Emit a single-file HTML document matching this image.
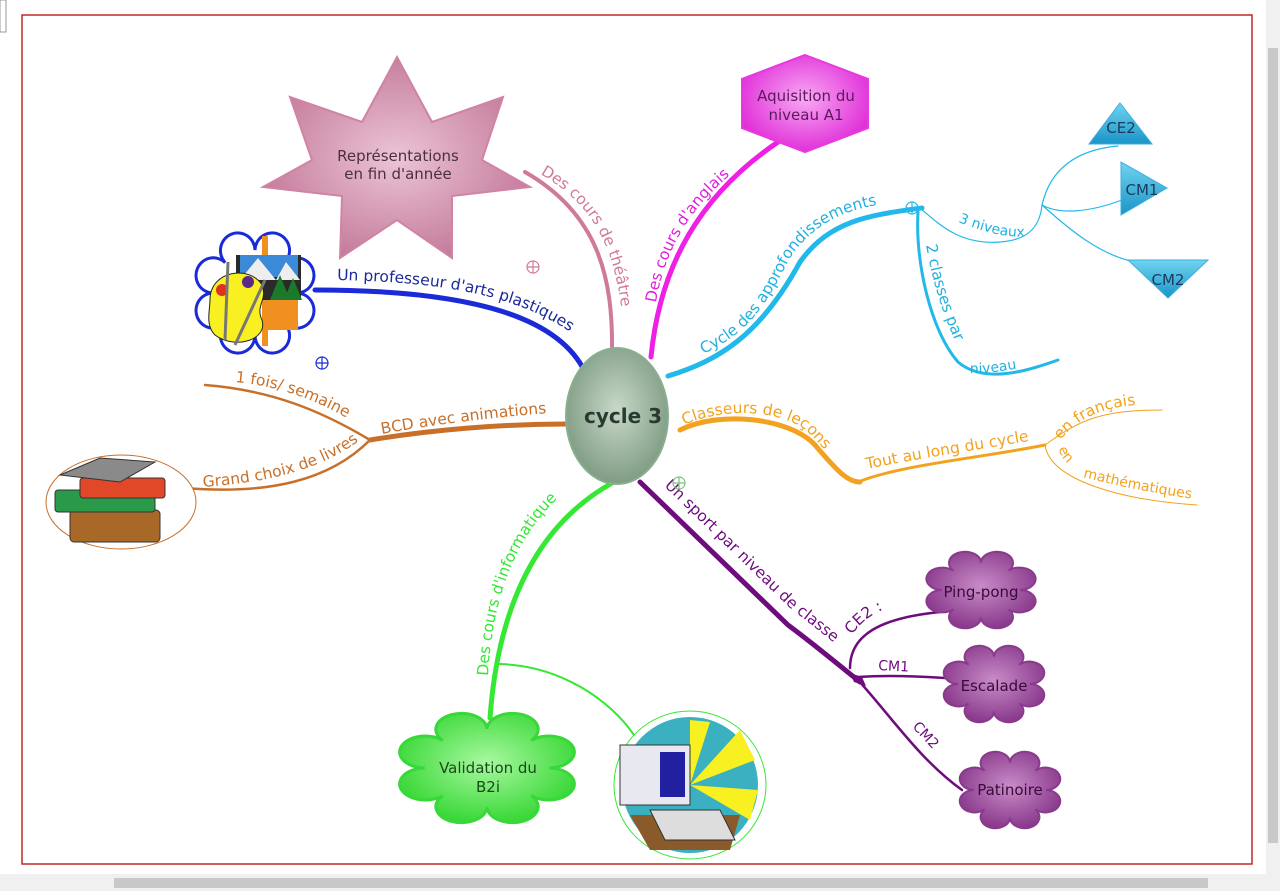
<!DOCTYPE html>
<html><head><meta charset="utf-8"><style>
html,body{margin:0;padding:0;background:#fff;width:1280px;height:891px;overflow:hidden}
svg{display:block;font-family:"DejaVu Sans","Liberation Sans",sans-serif}
</style></head><body>
<svg width="1280" height="891" viewBox="0 0 1280 891" xmlns="http://www.w3.org/2000/svg">
<defs>
<radialGradient id="gC" cx="50%" cy="45%" r="55%"><stop offset="0" stop-color="#c8d8c8"/><stop offset="1" stop-color="#7f9c84"/></radialGradient>
<radialGradient id="gS" cx="50%" cy="50%" r="55%"><stop offset="0" stop-color="#ecc4d6"/><stop offset="1" stop-color="#c27898"/></radialGradient>
<radialGradient id="gH" cx="50%" cy="45%" r="55%"><stop offset="0" stop-color="#f8a8f4"/><stop offset="1" stop-color="#e030d8"/></radialGradient>
<linearGradient id="gT" x1="0" y1="0" x2="0" y2="1"><stop offset="0" stop-color="#70d4f0"/><stop offset="1" stop-color="#1a94c8"/></linearGradient>
<radialGradient id="gP" cx="50%" cy="45%" r="55%"><stop offset="0" stop-color="#c88cc8"/><stop offset="1" stop-color="#8a3a8c"/></radialGradient>
<radialGradient id="gG" cx="50%" cy="45%" r="55%"><stop offset="0" stop-color="#a8f8a0"/><stop offset="1" stop-color="#3ad838"/></radialGradient>
<path id="cl" vector-effect="non-scaling-stroke" d="M0.78,0 A0.32,0.32 0 1 1 0.552,0.552 A0.32,0.32 0 1 1 0,0.78 A0.32,0.32 0 1 1 -0.552,0.552 A0.32,0.32 0 1 1 -0.78,0 A0.32,0.32 0 1 1 -0.552,-0.552 A0.32,0.32 0 1 1 0,-0.78 A0.32,0.32 0 1 1 0.552,-0.552 A0.32,0.32 0 1 1 0.78,0Z"/>
<path id="pTh" d="M540,174 C595,205 618,250 624,335"/>
<path id="pArt" d="M337,280 C450,282 530,297 588,345"/>
<path id="pEn" d="M656,303 C666,240 700,195 752,158"/>
<path id="pCy" d="M703,354 C750,332 765,306 790,258 C820,214 860,206 905,201"/>
<path id="p3n" d="M958,222 C985,232 1010,240 1035,235"/>
<path id="p2c" d="M926,245 C932,280 942,312 958,348"/>
<path id="pNi" d="M970,373 C985,374 1005,371 1030,366"/>
<path id="pBCD" d="M382,434 C430,425 500,416 565,412"/>
<path id="p1f" d="M235,382 C290,387 330,407 362,427"/>
<path id="pGc" d="M203,487 C270,482 320,470 360,440"/>
<path id="pCl" d="M684,425 C730,405 785,412 808,432 C825,450 832,458 842,462"/>
<path id="pTo" d="M867,469 C920,458 990,448 1045,438"/>
<path id="pFr" d="M1060,440 C1080,418 1100,406 1150,404"/>
<path id="pEnm" d="M1058,449 C1062,458 1066,463 1072,466"/>
<path id="pMa" d="M1083,477 C1120,487 1160,494 1200,500"/>
<path id="pInf" d="M488,676 C492,600 515,530 572,486"/>
<path id="pSp" d="M664,486 L790,608 C810,623 830,640 850,655"/>
<path id="pCE" d="M852,635 C862,620 875,612 895,605"/>
<path id="pCM1" d="M878,670 L915,672"/>
<path id="pCM2" d="M912,727 L940,757"/>
</defs>

<rect x="22" y="15" width="1230" height="849" fill="none" stroke="#c0282c" stroke-width="1.5"/>
<rect x="0" y="0" width="6" height="32" fill="#fff" stroke="#999"/>
<rect x="1266" y="0" width="14" height="891" fill="#f0f0f0"/>
<rect x="1268" y="48" width="10" height="795" fill="#c8c8c8"/>
<rect x="0" y="874" width="1266" height="17" fill="#f0f0f0"/>
<rect x="114" y="878" width="1094" height="10" fill="#c8c8c8"/>

<g fill="none" stroke-linecap="round">
<path d="M612,352 C613,280 600,215 525,172" stroke="#d07a9a" stroke-width="4"/>
<path d="M585,372 C560,320 480,290 315,290" stroke="#1a2ad8" stroke-width="5"/>
<path d="M651,357 C660,265 700,195 778,142" stroke="#ee20e6" stroke-width="5"/>
<path d="M668,376 C720,360 760,335 800,262 C830,220 870,215 922,208" stroke="#22b8ea" stroke-width="5"/>
<path d="M920,208 C940,225 960,245 1000,242 C1030,240 1040,225 1042,205" stroke="#22b8ea" stroke-width="1.2"/>
<path d="M1042,205 C1050,170 1075,150 1118,146" stroke="#22b8ea" stroke-width="1.2"/>
<path d="M1042,205 C1060,215 1090,212 1122,200" stroke="#22b8ea" stroke-width="1.2"/>
<path d="M1042,205 C1070,230 1100,255 1135,262" stroke="#22b8ea" stroke-width="1.2"/>
<path d="M918,212 C915,260 930,330 958,362 C985,385 1030,370 1058,360" stroke="#22b8ea" stroke-width="3"/>
<path d="M567,424 C500,424 430,430 370,440" stroke="#c8702a" stroke-width="5"/>
<path d="M370,440 C320,410 270,390 205,385" stroke="#c8702a" stroke-width="2.5"/>
<path d="M370,440 C330,480 270,495 185,488" stroke="#c8702a" stroke-width="2.5"/>
<path d="M680,430 C720,410 790,418 815,445 C838,472 848,482 860,482" stroke="#f2a21e" stroke-width="5"/>
<path d="M858,482 C900,465 980,458 1045,445" stroke="#f2a21e" stroke-width="3"/>
<path d="M1045,445 C1080,420 1100,410 1162,410" stroke="#f2a21e" stroke-width="1"/>
<path d="M1045,445 C1050,480 1120,500 1197,505" stroke="#f2a21e" stroke-width="1"/>
<path d="M640,482 L788,625 C815,645 835,662 860,682" stroke="#6e0c7e" stroke-width="5"/>
<path d="M850,668 C850,635 880,618 940,612" stroke="#6e0c7e" stroke-width="2.5"/>
<path d="M858,677 C885,675 915,676 945,678" stroke="#6e0c7e" stroke-width="2.5"/>
<path d="M858,680 C890,715 920,760 962,790" stroke="#6e0c7e" stroke-width="2.5"/>
<path d="M612,483 C555,515 500,580 490,718" stroke="#34e834" stroke-width="5"/>
<path d="M498,664 C560,665 610,700 634,735" stroke="#34e834" stroke-width="2"/>
</g>
<polygon points="850,673 862,677 866,686 854,682" fill="#6e0c7e"/>

<g font-size="15.5">
<text fill="#d07a9a"><textPath href="#pTh">Des cours de théâtre</textPath></text>
<text fill="#1a2a9a"><textPath href="#pArt">Un professeur d'arts plastiques</textPath></text>
<text fill="#e020dc"><textPath href="#pEn">Des cours d'anglais</textPath></text>
<text fill="#22b0e0"><textPath href="#pCy">Cycle des approfondissements</textPath></text>
<text fill="#22b0e0" font-size="14"><textPath href="#p3n">3 niveaux</textPath></text>
<text fill="#22b0e0"><textPath href="#p2c">2 classes par</textPath></text>
<text fill="#22b0e0" font-size="14"><textPath href="#pNi">niveau</textPath></text>
<text fill="#c8702a"><textPath href="#pBCD">BCD avec animations</textPath></text>
<text fill="#c8702a"><textPath href="#p1f">1 fois/ semaine</textPath></text>
<text fill="#c8702a"><textPath href="#pGc">Grand choix de livres</textPath></text>
<text fill="#f2a21e"><textPath href="#pCl">Classeurs de leçons</textPath></text>
<text fill="#f2a21e"><textPath href="#pTo">Tout au long du cycle</textPath></text>
<text fill="#f2a21e"><textPath href="#pFr">en français</textPath></text>
<text fill="#f2a21e" font-size="14"><textPath href="#pEnm">en</textPath></text>
<text fill="#f2a21e" font-size="14"><textPath href="#pMa">mathématiques</textPath></text>
<text fill="#34e834"><textPath href="#pInf">Des cours d'informatique</textPath></text>
<text fill="#6e0c7e"><textPath href="#pSp">Un sport par niveau de classe</textPath></text>
<text fill="#6e0c7e"><textPath href="#pCE">CE2 :</textPath></text>
<text fill="#6e0c7e" font-size="14"><textPath href="#pCM1">CM1</textPath></text>
<text fill="#6e0c7e" font-size="14"><textPath href="#pCM2">CM2</textPath></text>
</g>

<polygon points="397,57 432,122 503,97 482,160 530,187 452,196 452,258 397,220 340,258 342,196 263,187 312,160 290,97 362,122" fill="url(#gS)" stroke="#d083a4" stroke-width="2"/>
<text x="398" y="161" font-size="15" fill="#4a3040" text-anchor="middle">Représentations</text>
<text x="398" y="179" font-size="15" fill="#4a3040" text-anchor="middle">en fin d'année</text>

<polygon points="805,55 868,79 868,128 805,152 742,128 742,79" fill="url(#gH)" stroke="#e838e0" stroke-width="2"/>
<text x="806" y="101" font-size="15" fill="#5a1a5a" text-anchor="middle">Aquisition du</text>
<text x="806" y="120" font-size="15" fill="#5a1a5a" text-anchor="middle">niveau A1</text>

<polygon points="1120,103 1152,144 1089,144" fill="url(#gT)" stroke="#3aaee0"/>
<text x="1121" y="133" font-size="15" fill="#1a3a5a" text-anchor="middle">CE2</text>
<polygon points="1121,162 1167,188 1121,215" fill="url(#gT)" stroke="#3aaee0"/>
<text x="1142" y="195" font-size="15" fill="#1a3a5a" text-anchor="middle">CM1</text>
<polygon points="1128,260 1208,260 1168,298" fill="url(#gT)" stroke="#3aaee0"/>
<text x="1168" y="285" font-size="15" fill="#1a3a5a" text-anchor="middle">CM2</text>

<ellipse cx="617" cy="416" rx="51" ry="68" fill="url(#gC)" stroke="#8aae90" stroke-width="2"/>
<text x="623" y="423" font-size="20" font-weight="bold" fill="#2a3a30" text-anchor="middle">cycle 3</text>

<use href="#cl" fill="url(#gP)" stroke="#8a3a8c" stroke-width="2" transform="translate(981,590) scale(50,35)"/>
<text x="981" y="597" font-size="15" fill="#3a0a3a" text-anchor="middle">Ping-pong</text>
<use href="#cl" fill="url(#gP)" stroke="#8a3a8c" stroke-width="2" transform="translate(994,684) scale(46,35)"/>
<text x="994" y="691" font-size="15" fill="#3a0a3a" text-anchor="middle">Escalade</text>
<use href="#cl" fill="url(#gP)" stroke="#8a3a8c" stroke-width="2" transform="translate(1010,790) scale(46,35)"/>
<text x="1010" y="795" font-size="15" fill="#3a0a3a" text-anchor="middle">Patinoire</text>

<use href="#cl" fill="url(#gG)" stroke="#38d838" stroke-width="3" transform="translate(487,768) scale(80,50)"/>
<text x="488" y="773" font-size="15" fill="#1a4a1a" text-anchor="middle">Validation du</text>
<text x="488" y="792" font-size="15" fill="#1a4a1a" text-anchor="middle">B2i</text>

<use href="#cl" fill="#fff" stroke="#1a2ad8" stroke-width="3" transform="translate(255,293) scale(54,55)"/>
<rect x="262" y="236" width="6" height="110" fill="#f09020"/>
<rect x="236" y="255" width="65" height="45" fill="#2a2a2a"/>
<rect x="240" y="255" width="58" height="22" fill="#3a8ad8"/>
<polygon points="240,280 258,258 276,280 286,262 300,280" fill="#eee"/>
<polygon points="270,300 280,275 290,300" fill="#1a7a2a"/><polygon points="284,300 293,278 302,300" fill="#1a7a2a"/>
<rect x="268" y="300" width="30" height="30" fill="#f09020"/>
<path d="M210,300 C210,270 250,265 262,285 C268,300 255,305 262,320 C268,340 235,350 215,335 C205,325 210,310 210,300Z" fill="#f8f020" stroke="#222"/>
<circle cx="222" cy="290" r="6" fill="#e03020"/><circle cx="248" cy="282" r="6" fill="#5a2a8a"/>
<line x1="228" y1="262" x2="225" y2="340" stroke="#777" stroke-width="3"/>
<line x1="265" y1="280" x2="235" y2="345" stroke="#777" stroke-width="3"/>

<ellipse cx="121" cy="502" rx="75" ry="47" fill="#fff" stroke="#c8702a"/>
<rect x="70" y="510" width="90" height="32" rx="4" fill="#a86828" stroke="#333"/>
<rect x="55" y="490" width="100" height="22" rx="3" fill="#2a9a4a" stroke="#333"/>
<rect x="80" y="478" width="85" height="20" rx="3" fill="#e04828" stroke="#333"/>
<polygon points="60,475 100,458 155,462 120,482" fill="#8a8a8a" stroke="#333"/>

<ellipse cx="690" cy="785" rx="76" ry="74" fill="#fff" stroke="#34e834"/>
<ellipse cx="690" cy="785" rx="68" ry="68" fill="#3ab0c0"/>
<polygon points="690,785 740,730 755,760" fill="#f8f020"/>
<polygon points="690,785 758,790 750,820" fill="#f8f020"/>
<polygon points="690,785 690,720 710,722" fill="#f8f020"/>
<path d="M630,815 L740,815 L730,850 L650,850Z" fill="#8a5a2a"/>
<rect x="620" y="745" width="70" height="60" fill="#e8e8f0" stroke="#333"/>
<rect x="660" y="752" width="25" height="45" fill="#2020a0"/>
<path d="M650,810 L720,810 L735,840 L665,840Z" fill="#ddd" stroke="#333"/>

<g fill="none" stroke-width="1.2">
<g stroke="#d07a9a"><circle cx="533" cy="267" r="6"/><path d="M527,267h12M533,261v12"/></g>
<g stroke="#1a2ad8"><circle cx="322" cy="363" r="6"/><path d="M316,363h12M322,357v12"/></g>
<g stroke="#22b8ea"><circle cx="912" cy="208" r="6"/><path d="M906,208h12M912,202v12"/></g>
<g stroke="#80c080"><circle cx="679" cy="483" r="6"/><path d="M673,483h12M679,477v12"/></g>
</g>
</svg>
</body></html>
